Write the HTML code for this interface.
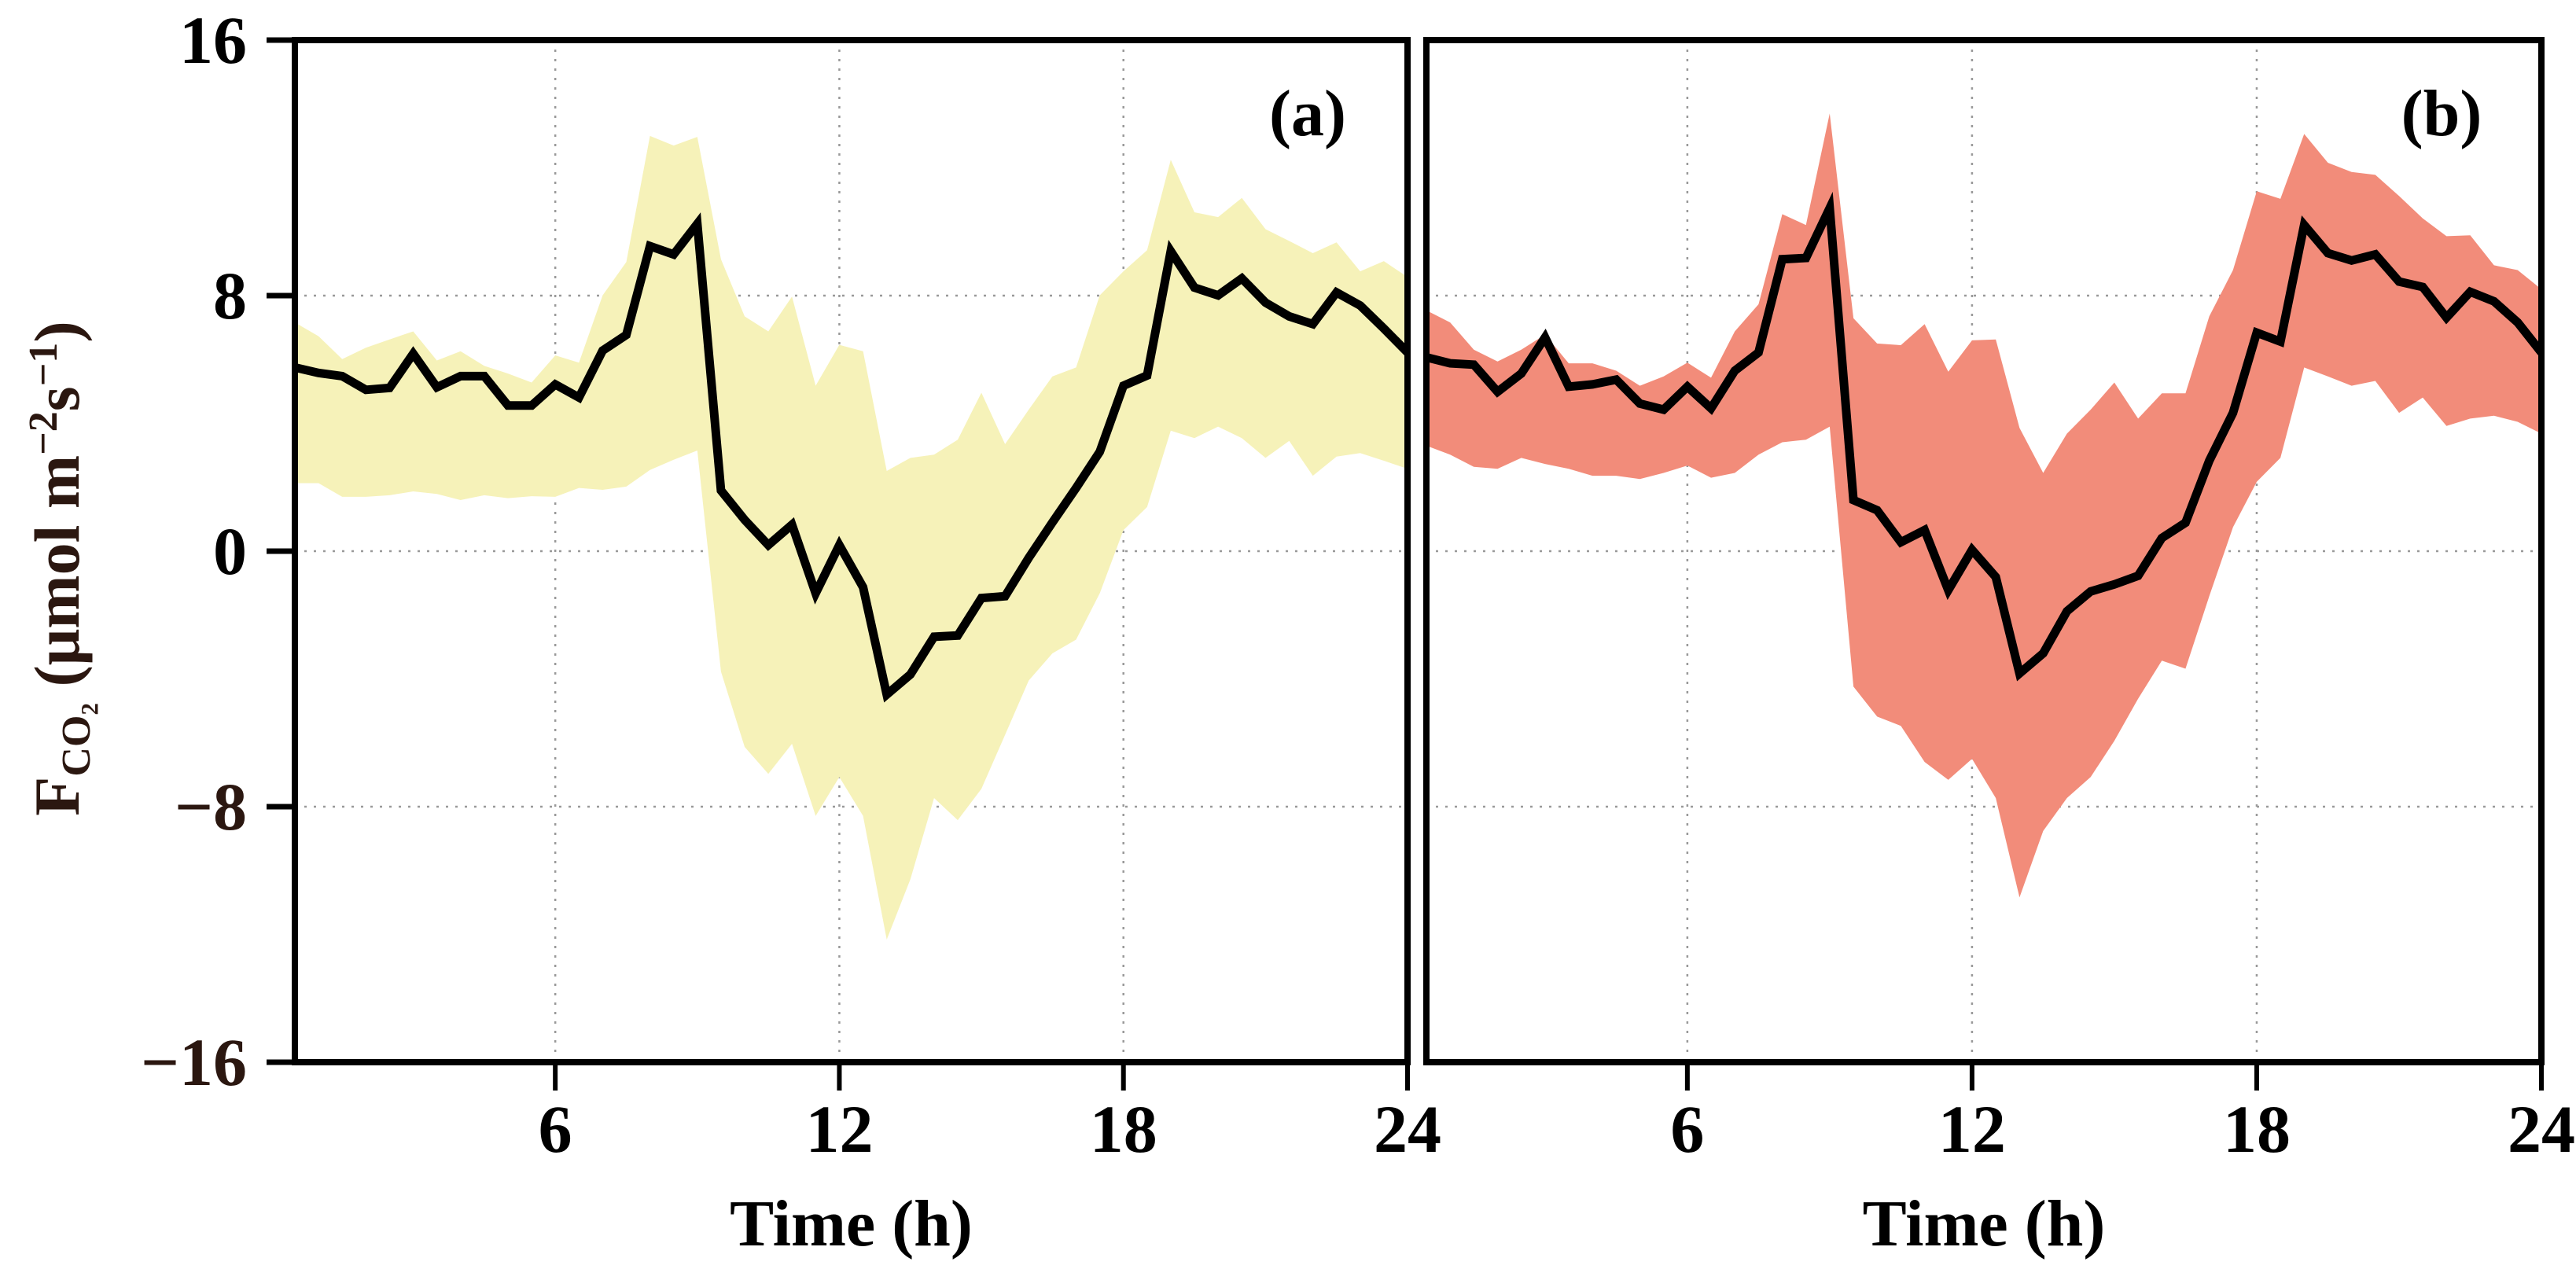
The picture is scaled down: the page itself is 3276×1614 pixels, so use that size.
<!DOCTYPE html>
<html><head><meta charset="utf-8"><style>
html,body{margin:0;padding:0;background:#fff;width:3276px;height:1614px;overflow:hidden}
svg text{font-family:"Liberation Serif","Times New Roman",serif;font-weight:bold}
</style></head><body>
<svg id="chart" width="3276" height="1614" viewBox="0 0 3276 1614" xmlns="http://www.w3.org/2000/svg">
<defs>
<clipPath id="clipA"><rect x="375" y="51" width="1415" height="1300"/></clipPath>
<clipPath id="clipB"><rect x="1814" y="51" width="1418" height="1300"/></clipPath>
</defs>
<g id="root"></g>
<text transform="translate(100,723) rotate(-90)" text-anchor="middle" font-size="82" fill="#2b1710">F<tspan font-size="52" dy="14">CO₂</tspan><tspan dy="-14"> (μmol m</tspan><tspan font-size="52" dy="-28">−2</tspan><tspan dy="28">s</tspan><tspan font-size="52" dy="-28">−1</tspan><tspan dy="28">)</tspan></text>
</svg>
<script>
const hours = [];
for (let i = 1; i <= 48; i++) hours.push(i * 0.5);
const yTicks = [16, 8, 0, -8, -16];
const yTickLabels = ["16", "8", "0", "\u22128", "\u221216"];
const xTicks = [6, 12, 18, 24];
const xTickLabels = ["6", "12", "18", "24"];
const gridX = [6, 12, 18];
const gridY = [8, 0, -8];

const meanA = [5.75,5.58,5.48,5.05,5.11,6.18,5.13,5.48,5.48,4.56,4.56,5.22,4.81,6.28,6.77,9.55,9.29,10.25,1.90,0.98,0.19,0.83,-1.32,0.19,-1.13,-4.49,-3.86,-2.68,-2.64,-1.47,-1.41,-0.21,0.90,1.98,3.11,5.18,5.50,9.39,8.25,8.01,8.54,7.78,7.35,7.11,8.10,7.69,6.97,6.22];
const upperA = [7.16,6.73,6.01,6.37,6.63,6.88,5.97,6.26,5.80,5.56,5.28,6.13,5.90,8.01,9.05,13.0,12.7,12.97,9.14,7.35,6.88,7.97,5.18,6.46,6.26,2.51,2.92,3.02,3.49,4.96,3.35,4.43,5.47,5.75,8.01,8.76,9.42,12.25,10.61,10.46,11.06,10.08,9.71,9.33,9.67,8.76,9.08,8.58];
const lowerA = [2.13,2.13,1.70,1.70,1.75,1.87,1.79,1.60,1.75,1.66,1.72,1.70,1.98,1.92,2.02,2.54,2.86,3.15,-3.77,-6.13,-6.97,-6.03,-8.29,-7.07,-8.29,-12.16,-10.27,-7.73,-8.42,-7.44,-5.75,-4.05,-3.20,-2.77,-1.32,0.66,1.38,3.77,3.54,3.90,3.54,2.92,3.45,2.36,2.96,3.07,2.83,2.58];
const meanB = [6.07,5.88,5.84,4.99,5.56,6.69,5.15,5.22,5.37,4.62,4.43,5.15,4.47,5.65,6.22,9.14,9.18,10.74,1.60,1.28,0.28,0.66,-1.22,0.04,-0.81,-3.83,-3.20,-1.88,-1.26,-1.04,-0.77,0.41,0.89,2.83,4.33,6.84,6.56,10.21,9.33,9.10,9.29,8.44,8.27,7.31,8.12,7.82,7.16,6.22];
const upperB = [7.54,7.16,6.31,5.94,6.31,6.78,5.88,5.88,5.65,5.18,5.47,5.90,5.43,6.88,7.73,10.55,10.21,13.70,7.29,6.50,6.45,7.11,5.62,6.60,6.63,3.86,2.45,3.68,4.43,5.28,4.15,4.94,4.94,7.35,8.80,11.27,11.03,13.06,12.16,11.87,11.78,11.12,10.42,9.86,9.89,8.95,8.80,8.20];
const lowerB = [3.30,3.02,2.64,2.58,2.92,2.73,2.58,2.36,2.36,2.26,2.45,2.68,2.30,2.45,3.02,3.41,3.49,3.90,-4.24,-5.18,-5.47,-6.60,-7.16,-6.50,-7.73,-10.84,-8.76,-7.73,-7.07,-5.94,-4.62,-3.43,-3.68,-1.41,0.75,2.17,2.92,5.75,5.47,5.18,5.33,4.33,4.81,3.92,4.15,4.24,4.05,3.68];

const NS = "http://www.w3.org/2000/svg";
const root = document.getElementById('root');
const Y0 = 51, Y1 = 1351;
function yScale(v){ return Y0 + (16 - v) / 32 * (Y1 - Y0); }
function mk(tag, attrs, parent){ const e = document.createElementNS(NS, tag); for (const k in attrs) e.setAttribute(k, attrs[k]); (parent||root).appendChild(e); return e; }

function panel(id, left, right, upper, lower, mean, fill, clip, label, showY){
  const xScale = h => left + (h - 0.5) / 23.5 * (right - left);
  const g = mk('g', {});
  
  
  gridX.forEach(h => {
    const l = mk('line', {x1: xScale(h), x2: xScale(h), y1: Y0, y2: Y1, stroke: '#999', 'stroke-width': 2.5, 'stroke-dasharray': '3 9'}, g);
    
    
  });
  gridY.forEach(v => {
    const l = mk('line', {x1: left, x2: right, y1: yScale(v), y2: yScale(v), stroke: '#999', 'stroke-width': 2.5, 'stroke-dasharray': '3 9'}, g);
    
    
  });
  let d = '';
  hours.forEach((h, i) => { d += (i ? 'L' : 'M') + xScale(h).toFixed(1) + ',' + yScale(upper[i]).toFixed(1); });
  for (let i = hours.length - 1; i >= 0; i--) d += 'L' + xScale(hours[i]).toFixed(1) + ',' + yScale(lower[i]).toFixed(1);
  const band = mk('path', {d: d + 'Z', fill: fill, 'clip-path': 'url(#' + clip + ')'}, g);
  
  
  let m = '';
  hours.forEach((h, i) => { m += (i ? 'L' : 'M') + xScale(h).toFixed(1) + ',' + yScale(mean[i]).toFixed(1); });
  const line = mk('path', {d: m, fill: 'none', stroke: '#000', 'stroke-width': 11, 'stroke-linejoin': 'miter', 'clip-path': 'url(#' + clip + ')'}, g);
  
  
  const fr = mk('rect', {x: left, y: Y0, width: right - left, height: Y1 - Y0, fill: 'none', stroke: '#000', 'stroke-width': 8}, g);
  
  
  xTicks.forEach((h, i) => {
    const x = xScale(h);
    const t = mk('line', {x1: x, x2: x, y1: Y1, y2: Y1 + 36, stroke: '#000', 'stroke-width': 6}, g);
    
    
    const tx = mk('text', {x: x, y: Y1 + 114, 'text-anchor': 'middle', 'font-size': 86}, g);
    tx.textContent = xTickLabels[i];
    
    
  });
  if (showY) {
    yTicks.forEach((v, i) => {
      const y = yScale(v);
      const t = mk('line', {x1: left - 36, x2: left, y1: y, y2: y, stroke: '#000', 'stroke-width': 7}, g);
      
      
      const tx = mk('text', {x: 314, y: y + 29, 'text-anchor': 'end', 'font-size': 86, fill: v < 0 ? '#2b1710' : '#000'}, g);
      tx.textContent = yTickLabels[i];
      
      
    });
  }
  const pl = mk('text', {x: right - 127, y: 172, 'text-anchor': 'middle', 'font-size': 84}, g);
  pl.textContent = label;
  
  
  const xt = mk('text', {x: (left + right) / 2, y: 1584, 'text-anchor': 'middle', 'font-size': 84}, g);
  xt.textContent = 'Time (h)';
  
  
}
panel('a', 375, 1790, upperA, lowerA, meanA, '#f6f2b9', 'clipA', '(a)', true);
panel('b', 1814, 3232, upperB, lowerB, meanB, '#f28c7a', 'clipB', '(b)', false);
</script>
</body></html>
